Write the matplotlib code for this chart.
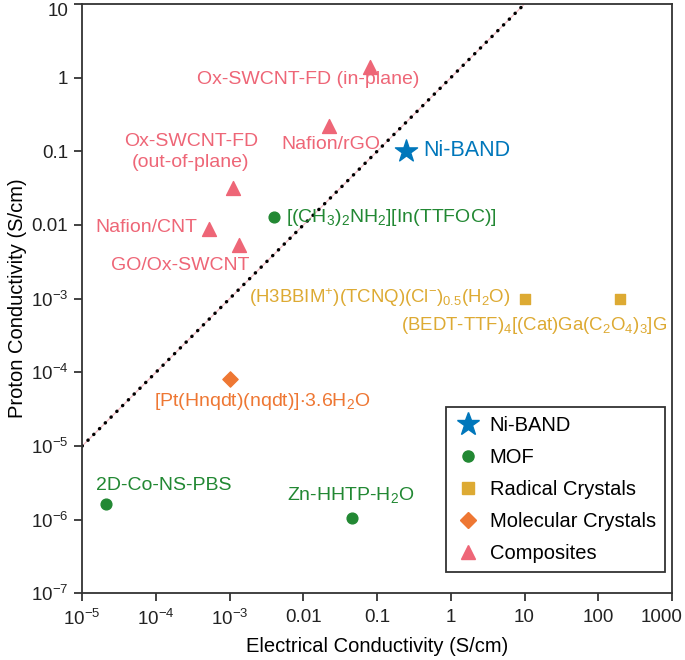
import numpy as np
import matplotlib
matplotlib.use("Agg")
import matplotlib.pyplot as plt
import matplotlib.transforms as mtransforms
from matplotlib.lines import Line2D

plt.rcParams['font.family'] = ['Liberation Sans', 'DejaVu Sans']
plt.rcParams['mathtext.fontset'] = 'custom'
plt.rcParams['mathtext.rm'] = 'Liberation Sans'
plt.rcParams['mathtext.it'] = 'Liberation Sans:italic'
plt.rcParams['mathtext.default'] = 'regular'

# Data (electrical conductivity, proton conductivity), S/cm
niband_x = [0.25]
niband_y = [0.1]
niband_labels = ['Ni-BAND']

mof_x = [0.004, 2.1e-5, 0.046]
mof_y = [0.013, 1.65e-6, 1.05e-6]
mof_labels = ['[(CH$_3$)$_2$NH$_2$][In(TTFOC)]', '2D-Co-NS-PBS', 'Zn-HHTP-H$_2$O']

radical_x = [10, 200]
radical_y = [1e-3, 1e-3]
radical_labels = ['(H3BBIM$^{+}$)(TCNQ)(Cl$^{-}$)$_{0.5}$(H$_2$O)',
                  '(BEDT-TTF)$_4$[(Cat)Ga(C$_2$O$_4$)$_3$]G']

molecular_x = [1e-3]
molecular_y = [8e-5]
molecular_labels = ['[Pt(Hnqdt)(nqdt)]$\\cdot$3.6H$_2$O']

comp_x = [0.08, 0.022, 1.1e-3, 5.3e-4, 1.34e-3]
comp_y = [1.4, 0.22, 0.032, 0.0089, 0.0053]
comp_labels = ['Ox-SWCNT-FD (in-plane)', 'Nafion/rGO', 'Ox-SWCNT-FD\n(out-of-plane)',
               'Nafion/CNT', 'GO/Ox-SWCNT']

xticks = [1e-5, 1e-4, 1e-3, 1e-2, 1e-1, 1, 10, 100, 1000]
xticklabels = ['$10^{-5}$', '$10^{-4}$', '$10^{-3}$', '0.01', '0.1', '1', '10', '100', '1000']
yticks = [1e-7, 1e-6, 1e-5, 1e-4, 1e-3, 1e-2, 1e-1, 1, 10]
yticklabels = ['$10^{-7}$', '$10^{-6}$', '$10^{-5}$', '$10^{-4}$', '$10^{-3}$', '0.01', '0.1', '1', '10']

legend_names = ['Ni-BAND', 'MOF', 'Radical Crystals', 'Molecular Crystals', 'Composites']

c_blue = '#0077BB'
c_green = '#228833'
c_gold = '#DDAA33'
c_orange = '#EE7733'
c_pink = '#EE6677'

fig = plt.figure(figsize=(6.85, 6.6), dpi=100)
ax = fig.add_axes([0.12, 0.101, 0.861, 0.893])
ax.set_xscale('log')
ax.set_yscale('log')
ax.set_xlim(1e-5, 1000)
ax.set_ylim(1e-7, 10)

# y = x guide line (faint pink line under black dots)
ax.plot([1e-5, 10], [1e-5, 10], color='#f4b8c0', lw=0.8, zorder=1)
ax.plot([1e-5, 10], [1e-5, 10], color='black', lw=2.5,
        linestyle=(0, (0.05, 2.3)), dash_capstyle='round', zorder=2)

ax.scatter(niband_x, niband_y, marker='*', s=280, color=c_blue, zorder=3)
ax.scatter(mof_x, mof_y, marker='o', s=60, color=c_green, zorder=3)
ax.scatter(radical_x, radical_y, marker='s', s=60, color=c_gold, zorder=3)
ax.scatter(molecular_x, molecular_y, marker='D', s=60, color=c_orange, zorder=3)
ax.scatter(comp_x, comp_y, marker='^', s=100, color=c_pink, zorder=3)


def label(x, y, text, dx, dy, color, ha='center', size=14):
    ax.annotate(text, (x, y), xytext=(dx, dy), textcoords='offset pixels',
                ha=ha, va='center', color=color, fontsize=size, linespacing=1.34)


label(niband_x[0], niband_y[0], niband_labels[0], 17, 1, c_blue, ha='left', size=15.5)

label(mof_x[0], mof_y[0], mof_labels[0], 12, -1, c_green, ha='left')
label(mof_x[1], mof_y[1], mof_labels[1], 58, 18, c_green)
label(mof_x[2], mof_y[2], mof_labels[2], -2, 23, c_green)

label(radical_x[0], radical_y[0], radical_labels[0], -14, 1, c_gold, ha='right', size=13.4)
label(radical_x[1], radical_y[1], radical_labels[1], 47, -27, c_gold, ha='right', size=13.4)

label(molecular_x[0], molecular_y[0], molecular_labels[0], 33, -22, c_orange)

comp_offsets = [(-62, -13), (2, -18), (-42, 36), (-63, 1), (-59, -20)]
for xv, yv, t, (dx, dy) in zip(comp_x, comp_y, comp_labels, comp_offsets):
    label(xv, yv, t, dx, dy, c_pink)

ax.set_xticks(xticks)
ax.set_xticklabels(xticklabels)
ax.set_yticks(yticks)
ax.set_yticklabels(yticklabels)
ax.minorticks_off()
ax.tick_params(direction='out', length=6, width=1.2, labelsize=13.5, colors='#222222')
ax.tick_params(axis='x', pad=5)
ax.tick_params(axis='y', pad=4)
for sp in ax.spines.values():
    sp.set_linewidth(1.3)
    sp.set_color('#333333')

# nudge the end labels inward so they stay inside the figure
top_lbl = ax.get_yticklabels()[-1]
top_lbl.set_transform(top_lbl.get_transform() +
                      mtransforms.ScaledTranslation(0, -6 / 100, fig.dpi_scale_trans))
right_lbl = ax.get_xticklabels()[-1]
right_lbl.set_transform(right_lbl.get_transform() +
                        mtransforms.ScaledTranslation(-10 / 100, 0, fig.dpi_scale_trans))

ax.set_xlabel('Electrical Conductivity (S/cm)', fontsize=14.5, labelpad=6)
ax.set_ylabel('Proton Conductivity (S/cm)', fontsize=14.5, labelpad=3)

handles = [
    Line2D([], [], marker='*', color=c_blue, ls='none', markersize=17),
    Line2D([], [], marker='o', color=c_green, ls='none', markersize=8),
    Line2D([], [], marker='s', color=c_gold, ls='none', markersize=8),
    Line2D([], [], marker='D', color=c_orange, ls='none', markersize=8),
    Line2D([], [], marker='^', color=c_pink, ls='none', markersize=10.5),
]
leg = ax.legend(handles, legend_names, loc='upper left', bbox_to_anchor=(0.616, 0.316),
                borderaxespad=0, fontsize=14.5, frameon=True, fancybox=False,
                labelspacing=0.64, handletextpad=0.45, handlelength=1.3, borderpad=0.45)
leg.get_frame().set_edgecolor('black')
leg.get_frame().set_linewidth(1.3)

fig.savefig('out.png', dpi=100)
